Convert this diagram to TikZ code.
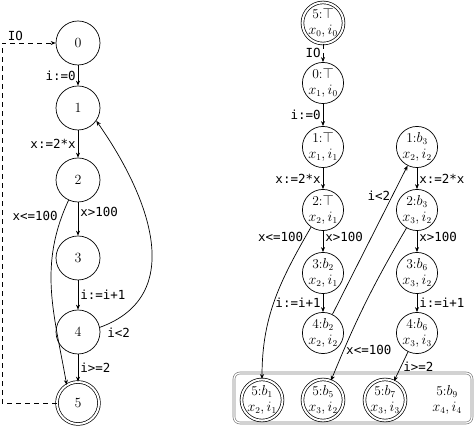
\documentclass[tikz,border=0pt]{standalone}
\usepackage{fontspec}
\setmonofont{DejaVu Sans Mono}
\usetikzlibrary{arrows.meta}

\tikzset{
  loc/.style={circle, draw, minimum size=44pt, inner sep=0pt, font=\fontsize{14}{16}\selectfont},
  rloc/.style={circle, draw, minimum size=40pt, inner sep=0pt, align=center, font=\fontsize{13.5}{16}\selectfont},
  fin/.style={double, double distance=2pt},
  lab/.style={font=\ttfamily\fontsize{12.5}{14}\selectfont, inner sep=2pt},
  iodash/.style={dash pattern=on 5pt off 4pt},
}

\begin{document}
\begin{tikzpicture}[x=1pt, y=1pt, >={Stealth[length=5pt, width=4pt]}, line width=0.7pt]
  \useasboundingbox (0,0) rectangle (474,427);

  % left graph
  \node (L0) at (78,384) [loc] {0};
  \node (L1) at (78,319) [loc] {1};
  \node (L2) at (78,247) [loc] {2};
  \node (L3) at (78,169) [loc] {3};
  \node (L4) at (78,95)  [loc] {4};
  \node (L5) at (78,24)  [loc, fin, minimum size=42pt] {5};
  \coordinate (Lio0) at (2,384);
  \coordinate (Lio5) at (2,24);

  \draw[->, iodash] (L5) -- (Lio5) -- (Lio0) to node[pos=0.25, above, lab] {IO} (L0);
  \draw[->] (L0) to node[left, lab] {i:=0} (L1);
  \draw[->] (L1) to node[left, lab] {x:=2*x} (L2);
  \draw[->] (L2) to node[pos=0.3, right, lab] {x>100} (L3);
  \draw[->] (L3) to node[right, lab] {i:=i+1} (L4);
  \draw[->] (L4) to node[right, lab] {i>=2} (L5);
  \draw[->] (L2.245) to[out=245, in=100] node[pos=0.08, left, lab, xshift=-2pt] {x<=100} (L5.122);
  \draw[->] (L4.12) to[out=20, in=-55, looseness=1.15] node[pos=0.02, below right, lab] {i<2} (L1.-35);

  % right graph
  \node (A5) at (323,404) [rloc, fin, minimum size=38pt] {5:$\top$\\$x_0,i_0$};
  \node (A0) at (323,344) [rloc] {0:$\top$\\$x_1,i_0$};
  \node (A1) at (323,280) [rloc] {1:$\top$\\$x_1,i_1$};
  \node (A2) at (323,217) [rloc] {2:$\top$\\$x_2,i_1$};
  \node (A3) at (323,154) [rloc] {3:$b_2$\\$x_2,i_1$};
  \node (A4) at (323,94)  [rloc] {4:$b_2$\\$x_2,i_2$};
  \node (B1) at (417,280) [rloc] {1:$b_3$\\$x_2,i_2$};
  \node (B2) at (417,217) [rloc] {2:$b_3$\\$x_3,i_2$};
  \node (B3) at (417,154) [rloc] {3:$b_6$\\$x_3,i_2$};
  \node (B4) at (417,94)  [rloc] {4:$b_6$\\$x_3,i_3$};

  \draw[gray, double, double distance=1.2pt, rounded corners=6pt] (234,4) rectangle (472,54);
  \node (E1) at (262,27) [rloc, fin, minimum size=38pt] {5:$b_1$\\$x_2,i_1$};
  \node (E5) at (323,27) [rloc, fin, minimum size=38pt] {5:$b_5$\\$x_3,i_2$};
  \node (E7) at (385,27) [rloc, fin, minimum size=38pt] {5:$b_7$\\$x_3,i_3$};
  \node (E9) at (447,27) [rloc, draw=none] {5:$b_9$\\$x_4,i_4$};

  \draw[->, iodash] (A5) to node[left, lab] {IO} (A0);
  \draw[->] (A0) to node[left, lab] {i:=0} (A1);
  \draw[->] (A1) to node[left, lab] {x:=2*x} (A2);
  \draw[->] (A2) to node[pos=0.3, right, lab] {x>100} (A3);
  \draw[->] (A3) to node[left, lab] {i:=i+1} (A4);
  \draw[->] (A4) to node[pos=0.8, left, lab] {i<2} (B1);
  \draw[->] (B1) to node[right, lab] {x:=2*x} (B2);
  \draw[->] (B2) to node[pos=0.3, right, lab] {x>100} (B3);
  \draw[->] (B3) to node[right, lab] {i:=i+1} (B4);
  \draw[->] (B4) to node[right, lab] {i>=2} (E7);
  \draw[->] (B2) to[bend right=4] node[pos=0.82, right, lab] {x<=100} (E5);
  \draw[->] (A2.235) to[out=240, in=90] node[pos=0.06, left, lab] {x<=100} (E1);
\end{tikzpicture}
\end{document}
